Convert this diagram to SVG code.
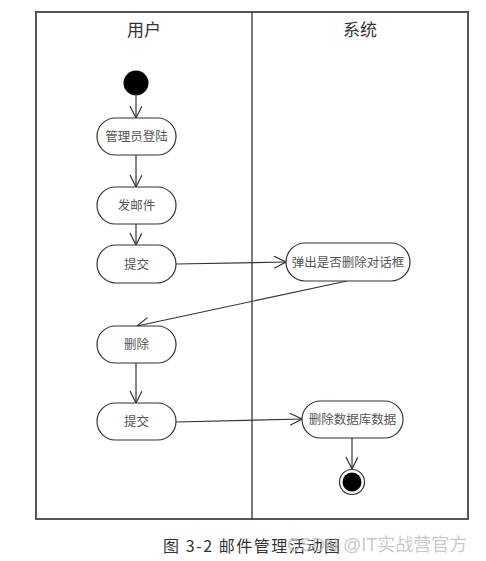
<svg xmlns="http://www.w3.org/2000/svg" width="486" height="561" viewBox="0 0 486 561">
<defs>
<marker id="open" markerWidth="14" markerHeight="14" refX="13" refY="6" orient="auto" markerUnits="userSpaceOnUse">
<path d="M1,0 L13,6 L1,12" fill="none" stroke="#333" stroke-width="1.2"/>
</marker>
<style>
.lane{fill:none;stroke:#555;stroke-width:2}
.div{stroke:#222;stroke-width:1.2}
.act{fill:#fff;stroke:#333;stroke-width:1.2}
.t{font-family:"Noto Sans CJK SC","Liberation Serif",serif;font-size:12.5px;fill:#555;text-anchor:middle}
.h{font-family:"Noto Sans CJK SC","Liberation Serif",serif;font-size:17px;fill:#333;text-anchor:middle}
.c{stroke:#333;stroke-width:1.2;fill:none;marker-end:url(#open)}
</style>
</defs>
<rect width="486" height="561" fill="#fff"/>
<g id="lanes">
<rect class="lane" x="36" y="12" width="432" height="507"/>
<line class="div" x1="252" y1="12" x2="252" y2="519"/>
<text class="h" x="144" y="36">用户</text>
<text class="h" x="360" y="36">系统</text>
</g>
<g id="connectors">
<line class="c" x1="136" y1="96" x2="136" y2="118"/>
<line class="c" x1="136" y1="155" x2="136" y2="187"/>
<line class="c" x1="136" y1="224" x2="136" y2="245"/>
<line class="c" x1="176" y1="264" x2="286" y2="262"/>
<line class="c" x1="347" y1="281" x2="137" y2="326"/>
<line class="c" x1="136" y1="363" x2="136" y2="403"/>
<line class="c" x1="176" y1="422" x2="302" y2="419"/>
<line class="c" x1="352" y1="438" x2="352" y2="469"/>
</g>
<g id="start"><circle cx="136" cy="83" r="12.5" fill="#000"/></g>
<g id="n1"><rect class="act" x="97" y="118" width="79" height="37" rx="18.5"/><text class="t" x="136.5" y="141">管理员登陆</text></g>
<g id="n2"><rect class="act" x="97" y="187" width="79" height="37" rx="18.5"/><text class="t" x="136.5" y="210">发邮件</text></g>
<g id="n3"><rect class="act" x="97" y="245" width="79" height="38" rx="19"/><text class="t" x="136.5" y="268.5">提交</text></g>
<g id="n4"><rect class="act" x="286" y="243" width="124" height="38" rx="19"/><text class="t" x="348" y="266.5">弹出是否删除对话框</text></g>
<g id="n5"><rect class="act" x="97" y="326" width="79" height="37" rx="18.5"/><text class="t" x="136.5" y="349">删除</text></g>
<g id="n6"><rect class="act" x="97" y="403" width="79" height="37" rx="18.5"/><text class="t" x="136.5" y="426">提交</text></g>
<g id="n7"><rect class="act" x="302" y="401" width="101" height="37" rx="18.5"/><text class="t" x="352.5" y="424">删除数据库数据</text></g>
<g id="end"><circle cx="352" cy="482" r="12.5" fill="#fff" stroke="#333" stroke-width="1.2"/><circle cx="352" cy="482" r="9.5" fill="#000"/></g>
<g id="caption">
<text x="163" y="552" font-family="Noto Sans CJK SC,Liberation Serif,serif" font-size="16" fill="#333" textLength="177" lengthAdjust="spacing">图 3-2 邮件管理活动图</text>
<text x="287" y="551" font-family="Liberation Sans,Noto Sans CJK SC,sans-serif" font-size="18" fill="#bbb" fill-opacity="0.8">CSDN @IT实战营官方</text>
</g>
</svg>
